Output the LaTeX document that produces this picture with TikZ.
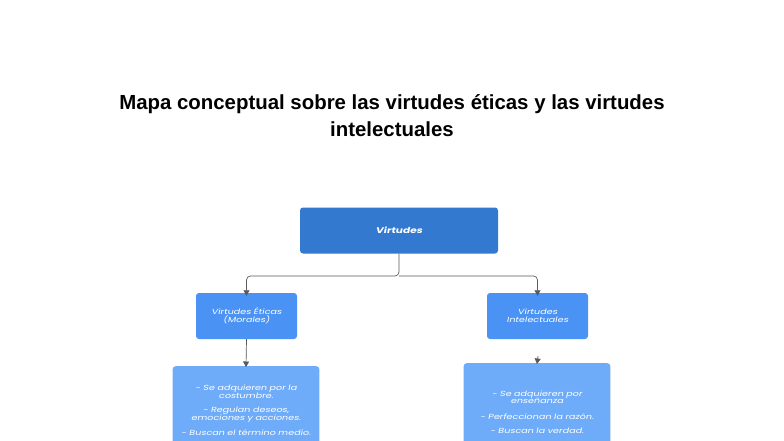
\documentclass[tikz,border=0pt]{standalone}
\usepackage{fontspec}
\setmainfont{Liberation Sans}
\newfontfamily\boxfont{Poppins}[FakeSlant=0.2,FakeStretch=1.3]
\usetikzlibrary{arrows.meta}
\definecolor{topblue}{HTML}{3479D0}
\definecolor{midblue}{HTML}{4A93F4}
\definecolor{lowblue}{HTML}{6EABF8}
\definecolor{lineg}{HTML}{5A5A5A}
\tikzset{
  box/.style={draw=none, rounded corners=3pt, text=white, align=center, font=\boxfont\fontsize{7.4}{7.7}\selectfont},
  lowbox/.style={box, fill=lowblue, minimum width=146, anchor=north, text width=140, inner ysep=0pt},
  conn/.style={draw=lineg, line width=0.7pt, rounded corners=4pt, -{Triangle[length=5.5pt,width=6pt]}},
}
\begin{document}
\begin{tikzpicture}[x=1pt,y=-1pt]
\useasboundingbox (0,0) rectangle (784,441);
\clip (0,0) rectangle (784,441);
\fill[white] (0,0) rectangle (784,441);
\node[font=\bfseries\fontsize{20.4}{27}\selectfont, align=center] (title) at (392,116)
  {Mapa conceptual sobre las virtudes éticas y las virtudes\\intelectuales};
\node[box, fill=topblue, minimum width=198, minimum height=46, font=\boxfont\bfseries\fontsize{8.2}{10}\selectfont] (vir) at (399,230.5) {Virtudes};
\node[box, fill=midblue, minimum width=101, minimum height=46] (eti) at (246.5,316) {Virtudes Éticas\\(Morales)};
\node[box, fill=midblue, minimum width=101, minimum height=46] (int) at (537.5,316) {Virtudes\\Intelectuales};
\node[lowbox] (etb) at (246,366)
  {\rule{0pt}{24.5pt}- Se adquieren por la\\costumbre.\\[6.5pt]- Regulan deseos,\\emociones y acciones.\\[7pt]- Buscan el término medio.\rule[-40pt]{0pt}{0pt}};
\node[lowbox] (inb) at (537,363)
  {\rule{0pt}{33pt}- Se adquieren por\\enseñanza\\[8pt]- Perfeccionan la razón.\\[6.3pt]- Buscan la verdad.\rule[-40pt]{0pt}{0pt}};
\coordinate (j) at (399,276);
\coordinate (rs) at (538,356);
\draw[conn] (vir.south) -- (j) -| ([yshift=-3]eti.north);
\draw[conn] (j) -| ([yshift=-3]int.north);
\draw[conn] (eti.south) -- ([yshift=-1]etb.north);
\draw[conn] (rs) -- ([yshift=-1]inb.north);
\end{tikzpicture}
\end{document}
